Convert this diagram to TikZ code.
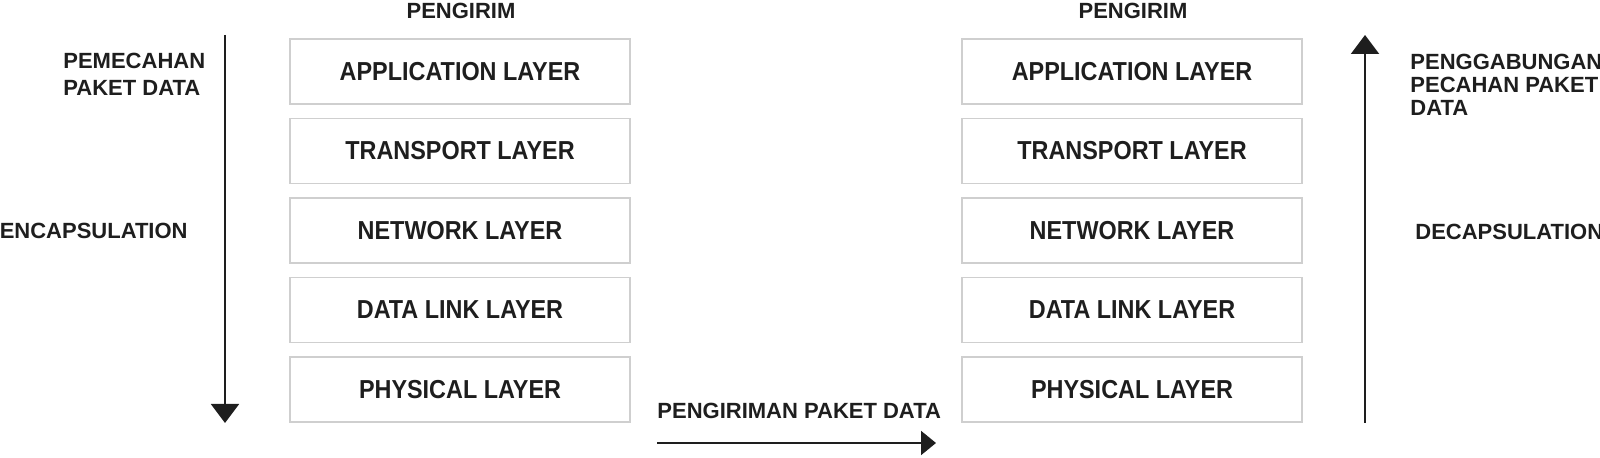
\documentclass[tikz,border=0pt]{standalone}
\usepackage{fontspec}
\setmainfont{Liberation Sans}
\newfontfamily\boxfont[FakeStretch=0.9]{Liberation Sans}
\usetikzlibrary{arrows.meta}
\definecolor{ink}{HTML}{1E1E1E}
\definecolor{boxgray}{HTML}{CFCFCF}
\begin{document}
\begin{tikzpicture}[x=0.5pt,y=-0.5pt,
  layerbox/.style={draw=boxgray, line width=0.75pt, minimum width=170pt, minimum height=32.5pt, inner sep=0pt,
    font=\boxfont\bfseries\fontsize{13}{13}\selectfont, text=ink},
  lbl/.style={inner sep=0pt, font=\bfseries\fontsize{11}{11}\selectfont, text=ink},
  flow/.style={draw=ink, line width=1pt, -{Triangle[length=9.5pt,width=14pt]}},
  flowh/.style={draw=ink, line width=1pt, -{Triangle[length=7.5pt,width=12pt]}}]
\useasboundingbox (0,0) rectangle (1600,458);

% sender stack
\node[lbl] (sendtitle) at (461,10.5) {PENGIRIM};
\node[layerbox] (L1) at (460,71.5) {APPLICATION LAYER};
\node[layerbox] (L2) at (460,151) {TRANSPORT LAYER};
\node[layerbox] (L3) at (460,230.5) {NETWORK LAYER};
\node[layerbox] (L4) at (460,310) {DATA LINK LAYER};
\node[layerbox] (L5) at (460,389.5) {PHYSICAL LAYER};

% receiver stack
\node[lbl] (recvtitle) at (1133,10.5) {PENGIRIM};
\node[layerbox] (R1) at (1132,71.5) {APPLICATION LAYER};
\node[layerbox] (R2) at (1132,151) {TRANSPORT LAYER};
\node[layerbox] (R3) at (1132,230.5) {NETWORK LAYER};
\node[layerbox] (R4) at (1132,310) {DATA LINK LAYER};
\node[layerbox] (R5) at (1132,389.5) {PHYSICAL LAYER};

% left side labels
\node[lbl, anchor=north west, align=left, font=\bfseries\fontsize{11}{13.3}\selectfont] (split) at (63,52.7) {PEMECAHAN\\PAKET DATA};
\node[lbl, anchor=east] (encap) at (188,231) {ENCAPSULATION};

% right side labels
\node[lbl, anchor=north west, align=left, font=\bfseries\fontsize{11}{11.65}\selectfont] (merge) at (1410,53.3) {PENGGABUNGAN\\PECAHAN PAKET\\DATA};
\node[lbl, anchor=west] (decap) at (1415,232) {DECAPSULATION};

% transmission label
\node[lbl, anchor=west] (send) at (657,411) {PENGIRIMAN PAKET DATA};

% arrows
\coordinate (encTop) at (225,35);
\coordinate (encBot) at (225,423);
\coordinate (decBot) at (1365,423);
\coordinate (decTop) at (1365,35);
\coordinate (txStart) at (657,443);
\coordinate (txEnd) at (936,443);
\draw[flow] (encTop) -- (encBot);
\draw[flow] (decBot) -- (decTop);
\draw[flowh] (txStart) -- (txEnd);
\end{tikzpicture}
\end{document}
